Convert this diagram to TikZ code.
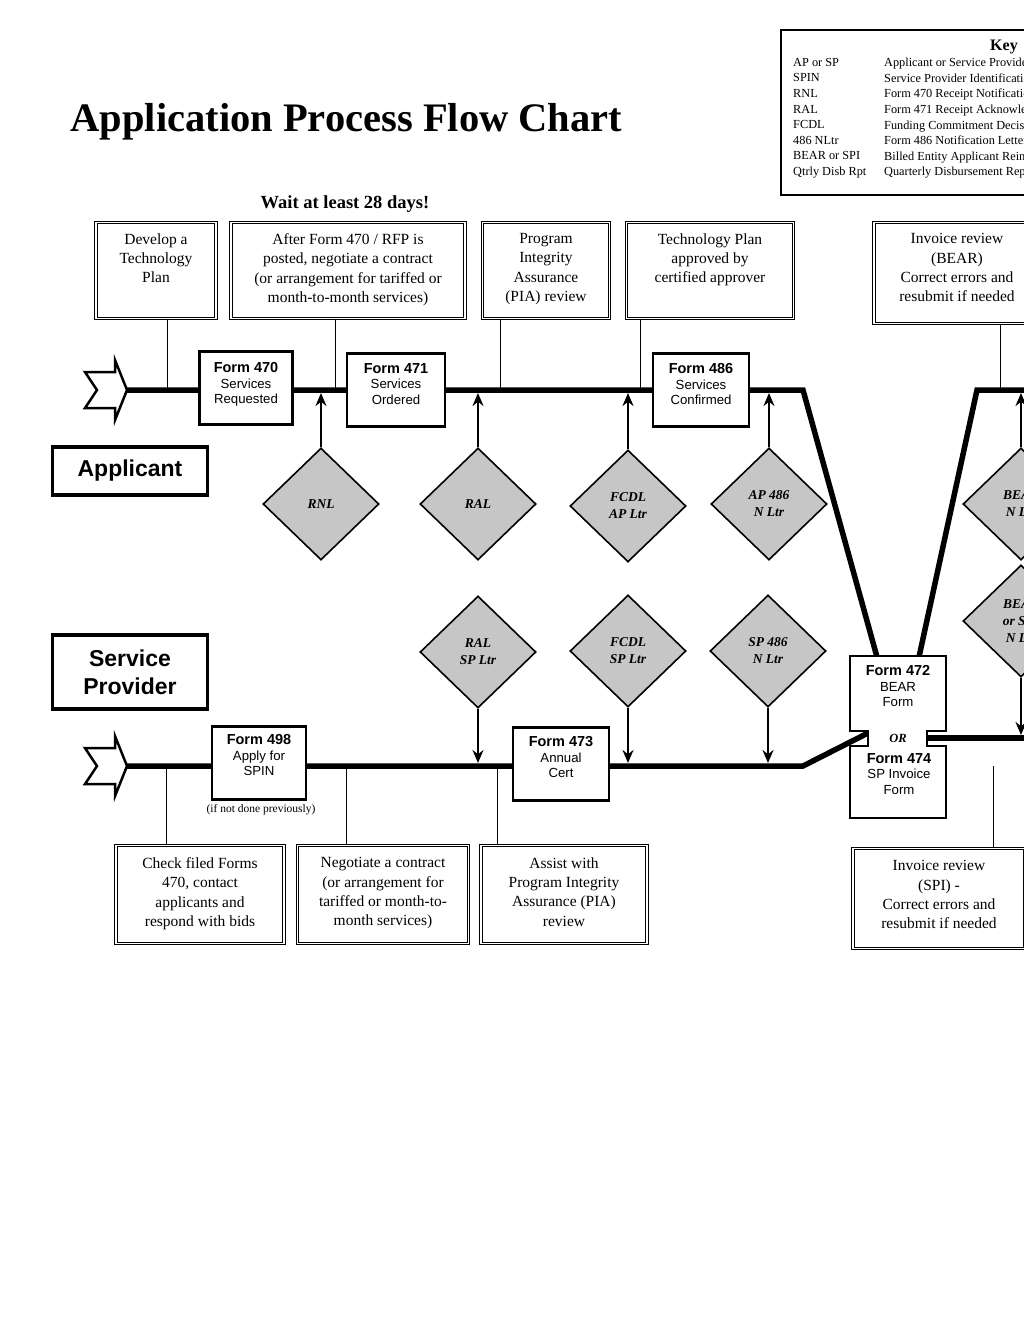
\documentclass[tikz,border=0pt]{standalone}
\usepackage{fontspec}
\setmainfont{Liberation Serif}
\newfontfamily\sansf{Liberation Sans}
\usetikzlibrary{shapes.geometric,arrows.meta}
\begin{document}
\begin{tikzpicture}[x=1pt,y=-1pt,
 dbox/.style={draw,double,double distance=1.8pt,line width=0.8pt,align=center,inner sep=0pt},
 btext/.style={anchor=north,align=center,font=\fontsize{15.5}{19.3}\selectfont},
 fbox/.style={draw,line width=2.5pt,fill=white,inner sep=0pt},
 ftext/.style={anchor=north,align=center,inner sep=0pt,font=\sansf\fontsize{13.2}{15.8}\selectfont},
 dia/.style={draw,diamond,fill=gray!45,line width=1.6pt,minimum width=116pt,minimum height=112pt,inner sep=0pt,align=center,font=\bfseries\itshape\fontsize{13.5}{17}\selectfont},
 thick line/.style={line width=5.5pt},
 conn/.style={line width=0.8pt},
 arr/.style={line width=2.6pt,-{Stealth[length=13pt,width=11pt]}},
 role/.style={draw,line width=3.5pt,align=center,font=\sansf\bfseries\fontsize{23}{28}\selectfont,inner sep=0pt}]
\newcommand\ftitle[1]{{\bfseries\fontsize{14.5}{16}\selectfont #1}}
\useasboundingbox (0,0) rectangle (1024,1326);
\clip (0,0) rectangle (1024,1326);
% title and key
\node[anchor=west,font=\bfseries\fontsize{40.5}{42}\selectfont] (title) at (67,122) {Application Process Flow Chart};
\draw[line width=1.2pt] (781,30) rectangle (1040,195);
\node[font=\bfseries\fontsize{16}{16}\selectfont] (key) at (1004,47) {Key};
\node[anchor=north west,align=left,font=\fontsize{12.3}{15.6}\selectfont,inner sep=0pt] (k1) at (793,58) {AP or SP\\SPIN\\RNL\\RAL\\FCDL\\486 NLtr\\BEAR or SPI\\Qtrly Disb Rpt};
\node[anchor=north west,align=left,font=\fontsize{12.3}{15.6}\selectfont,inner sep=0pt] (k2) at (884,58) {Applicant or Service Provider\\Service Provider Identification Number\\Form 470 Receipt Notification Letter\\Form 471 Receipt Acknowledgment Letter\\Funding Commitment Decision Letter\\Form 486 Notification Letter\\Billed Entity Applicant Reimbursement\\Quarterly Disbursement Report};
\node[font=\bfseries\fontsize{18.5}{20}\selectfont] (wait) at (345,204) {Wait at least 28 days!};
% top boxes
\node[dbox,minimum width=120pt,minimum height=96pt,anchor=north] (t1) at (156,222) {};
\node[btext] (t1l) at (156,230) {Develop a\\Technology\\Plan};
\node[dbox,minimum width=234pt,minimum height=96pt,anchor=north] (t2) at (348,222) {};
\node[btext] (t2l) at (348,230) {After Form 470 / RFP is\\posted, negotiate a contract\\(or arrangement for tariffed or\\month-to-month services)};
\node[dbox,minimum width=127pt,minimum height=96pt,anchor=north] (t3) at (546,222) {};
\node[btext] (t3l) at (546,230) {Program\\Integrity\\Assurance\\(PIA) review};
\node[dbox,minimum width=167pt,minimum height=96pt,anchor=north] (t4) at (710,222) {};
\node[btext] (t4l) at (710,230) {Technology Plan\\approved by\\certified approver};
\node[dbox,minimum width=166pt,minimum height=101pt,anchor=north] (t5) at (957,222) {};
\node[btext] (t5l) at (957,230) {Invoice review\\(BEAR)\\Correct errors and\\resubmit if needed};
% bottom boxes
\node[dbox,minimum width=168pt,minimum height=98pt,anchor=north] (b1) at (200,845) {};
\node[btext] (b1l) at (200,854) {Check filed Forms\\470, contact\\applicants and\\respond with bids};
\node[dbox,minimum width=171pt,minimum height=98pt,anchor=north] (b2) at (383,845) {};
\node[btext] (b2l) at (383,854) {Negotiate a contract\\(or arrangement for\\tariffed or month-to-\\month services)};
\node[dbox,minimum width=166pt,minimum height=98pt,anchor=north] (b3) at (564,845) {};
\node[btext] (b3l) at (564,854) {Assist with\\Program Integrity\\Assurance (PIA)\\review};
\node[dbox,minimum width=172pt,minimum height=100pt,anchor=north] (b4) at (939,848) {};
\node[btext] (b4l) at (939,857) {Invoice review\\(SPI) -\\Correct errors and\\resubmit if needed};
% role boxes
\node[role,minimum width=155pt,minimum height=48pt] (app) at (130,471) {Applicant};
\node[role,minimum width=155pt,minimum height=74pt] (sp) at (130,672) {Service\\Provider};
% main lines
\coordinate (aS) at (125,390); \coordinate (aE) at (803,390);
\coordinate (sS) at (125,766); \coordinate (sE) at (803,766);
\coordinate (fTL) at (877,657); \coordinate (fTR) at (919,657);
\coordinate (rA) at (977,390); \coordinate (rAE) at (1030,390);
\coordinate (sJ) at (868,733); \coordinate (rS) at (927,738); \coordinate (rSE) at (1030,738);
\draw[thick line] (aS) -- (aE) -- (fTL);
\draw[thick line] (fTR) -- (rA) -- (rAE);
\draw[thick line] (sS) -- (sE) -- (sJ);
\draw[thick line] (rS) -- (rSE);
% connectors
\foreach \x/\b in {167/t1,335/t2,500/t3,640/t4,1000/t5}{
  \draw[conn] (\b.south -| \x,0) -- (\x,390);}
\foreach \x/\b in {166/b1,346/b2,497/b3,993/b4}{
  \draw[conn] (\b.north -| \x,0) -- (\x,766);}
% entry arrows
\foreach \y in {390,766}{
 \draw[line width=2.5pt,fill=white] (85,\y-18) -- (115,\y-18) -- (115,\y-30) -- (127,\y) -- (115,\y+30) -- (115,\y+18) -- (85,\y+18) -- (97,\y) -- cycle;}
% form boxes
\node[fbox,minimum width=93pt,minimum height=73pt] (f470) at (246,388) {};
\node[ftext] (f470l) at (246,362) {\ftitle{Form 470}\\Services\\Requested};
\node[fbox,minimum width=98pt,minimum height=73pt] (f471) at (396,390) {};
\node[ftext] (f471l) at (396,363) {\ftitle{Form 471}\\Services\\Ordered};
\node[fbox,minimum width=96pt,minimum height=73pt] (f486) at (701,390) {};
\node[ftext] (f486l) at (701,363) {\ftitle{Form 486}\\Services\\Confirmed};
\node[fbox,minimum width=94pt,minimum height=73pt] (f498) at (259,763) {};
\node[ftext] (f498l) at (259,734) {\ftitle{Form 498}\\Apply for\\SPIN};
\node[font=\fontsize{11.5}{12}\selectfont] (ifnot) at (261,810) {(if not done previously)};
\node[fbox,minimum width=96pt,minimum height=73pt] (f473) at (561,764) {};
\node[ftext] (f473l) at (561,736) {\ftitle{Form 473}\\Annual\\Cert};
% form 472/474
\draw[line width=2.5pt,fill=white] (850,656) -- (946,656) -- (946,731) -- (927,731) -- (927,746) -- (946,746) -- (946,818) -- (850,818) -- (850,746) -- (868,746) -- (868,731) -- (850,731) -- cycle;
\node[ftext] (f472) at (898,665) {\ftitle{Form 472}\\BEAR\\Form};
\node[font=\bfseries\itshape\fontsize{12.5}{14}\selectfont] (or) at (898,738) {OR};
\node[ftext] (f474) at (899,753) {\ftitle{Form 474}\\SP Invoice\\Form};
% diamonds
\node[dia] (rnl) at (321,504) {RNL};
\node[dia] (ral) at (478,504) {RAL};
\node[dia] (fcdl) at (628,506) {FCDL\\AP Ltr};
\node[dia] (ap486) at (769,504) {AP 486\\N Ltr};
\node[dia] (ralsp) at (478,652) {RAL\\SP Ltr};
\node[dia] (fcdlsp) at (628,651) {FCDL\\SP Ltr};
\node[dia] (sp486) at (768,651) {SP 486\\N Ltr};
\node[dia] (bear1) at (1021,504) {BEAR\\N Ltr};
\node[dia] (bear2) at (1021,621) {BEAR\\or SPI\\N Ltr};
% arrows
\foreach \d in {rnl,ral,fcdl,ap486,bear1}{\draw[arr] (\d.north) -- (\d.north |- 0,393);}
\foreach \d in {ralsp,fcdlsp,sp486}{\draw[arr] (\d.south) -- (\d.south |- 0,763);}
\draw[arr] (bear2.south) -- (bear2.south |- 0,735);
\end{tikzpicture}
\end{document}
